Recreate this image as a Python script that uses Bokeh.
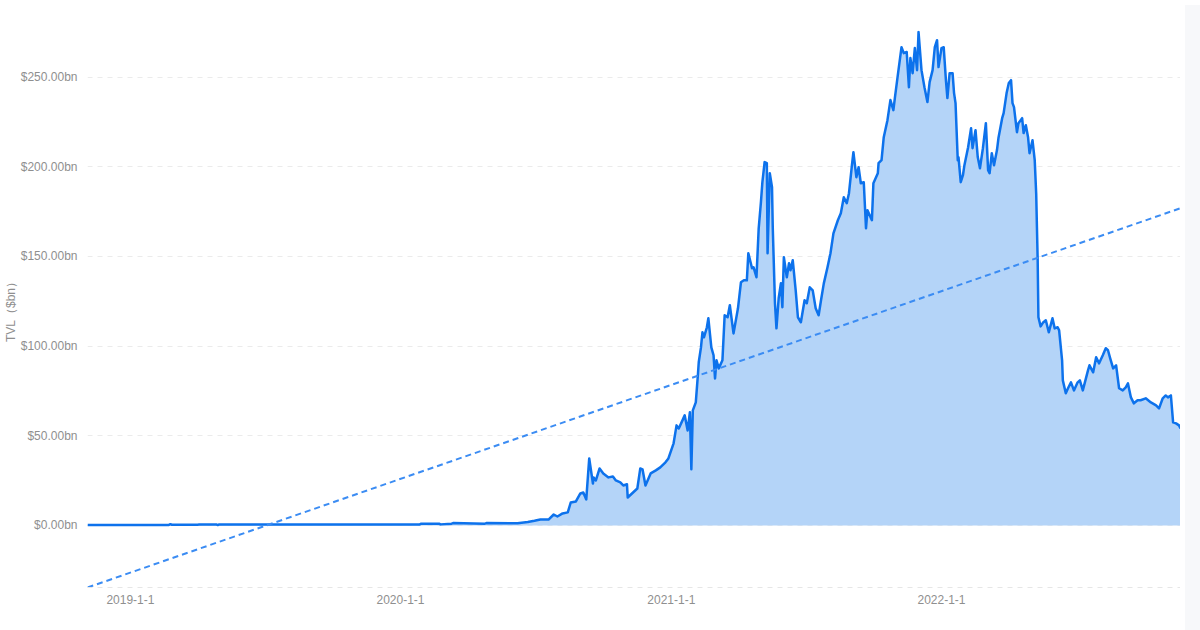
import pandas as pd
from bokeh.plotting import figure
from bokeh.models import FixedTicker, PrintfTickFormatter, Range1d, Div
from bokeh.layouts import row
from bokeh.embed import file_html
from bokeh.resources import INLINE

# ---- data (TVL in $bn) ----
tvl_dates = [
    "2018-11-04", "2019-02-22", "2019-02-24", "2019-02-26", "2019-04-02", "2019-04-04",
    "2019-04-27", "2019-04-29", "2019-05-01", "2020-01-27", "2020-01-29", "2020-02-22",
    "2020-02-24", "2020-03-10", "2020-03-12", "2020-04-24", "2020-04-26", "2020-06-07",
    "2020-06-21", "2020-06-30", "2020-07-08", "2020-07-19", "2020-07-26", "2020-07-31",
    "2020-08-07", "2020-08-14", "2020-08-18", "2020-08-25", "2020-08-31", "2020-09-04",
    "2020-09-08", "2020-09-12", "2020-09-17", "2020-09-18", "2020-09-21", "2020-09-26",
    "2020-10-01", "2020-10-08", "2020-10-14", "2020-10-18", "2020-10-24", "2020-10-28",
    "2020-11-02", "2020-11-03", "2020-11-16", "2020-11-20", "2020-11-23", "2020-11-27",
    "2020-12-04", "2020-12-11", "2020-12-17", "2020-12-24", "2020-12-28", "2021-01-04",
    "2021-01-08", "2021-01-11", "2021-01-16", "2021-01-19", "2021-01-23", "2021-01-26",
    "2021-01-28", "2021-01-30", "2021-02-03", "2021-02-06", "2021-02-07", "2021-02-10",
    "2021-02-12", "2021-02-14", "2021-02-18", "2021-02-20", "2021-02-24", "2021-02-27",
    "2021-03-01", "2021-03-03", "2021-03-06", "2021-03-11", "2021-03-14", "2021-03-18",
    "2021-03-21", "2021-03-26", "2021-04-01", "2021-04-05", "2021-04-09", "2021-04-13",
    "2021-04-15", "2021-04-20", "2021-04-22", "2021-04-26", "2021-04-29", "2021-05-02",
    "2021-05-04", "2021-05-07", "2021-05-10", "2021-05-11", "2021-05-14", "2021-05-17",
    "2021-05-18", "2021-05-21", "2021-05-23", "2021-05-26", "2021-05-29", "2021-05-31",
    "2021-06-02", "2021-06-06", "2021-06-09", "2021-06-11", "2021-06-14", "2021-06-18",
    "2021-06-21", "2021-06-25", "2021-06-30", "2021-07-03", "2021-07-07", "2021-07-11",
    "2021-07-15", "2021-07-19", "2021-07-22", "2021-07-26", "2021-07-31", "2021-08-04",
    "2021-08-08", "2021-08-14", "2021-08-18", "2021-08-22", "2021-08-26", "2021-08-29",
    "2021-09-02", "2021-09-04", "2021-09-08", "2021-09-11", "2021-09-14", "2021-09-18",
    "2021-09-21", "2021-09-23", "2021-09-29", "2021-10-01", "2021-10-07", "2021-10-08",
    "2021-10-12", "2021-10-15", "2021-10-20", "2021-10-22", "2021-10-24", "2021-10-28",
    "2021-10-30", "2021-11-03", "2021-11-08", "2021-11-11", "2021-11-15", "2021-11-18",
    "2021-11-20", "2021-11-23", "2021-11-26", "2021-11-29", "2021-12-01", "2021-12-05",
    "2021-12-09", "2021-12-13", "2021-12-16", "2021-12-20", "2021-12-23", "2021-12-26",
    "2021-12-28", "2022-01-01", "2022-01-04", "2022-01-07", "2022-01-09", "2022-01-12",
    "2022-01-16", "2022-01-18", "2022-01-20", "2022-01-23", "2022-01-24", "2022-01-27",
    "2022-01-30", "2022-02-01", "2022-02-06", "2022-02-10", "2022-02-12", "2022-02-16",
    "2022-02-19", "2022-02-22", "2022-02-26", "2022-03-02", "2022-03-05", "2022-03-07",
    "2022-03-10", "2022-03-13", "2022-03-17", "2022-03-19", "2022-03-24", "2022-03-26",
    "2022-03-30", "2022-04-02", "2022-04-05", "2022-04-07", "2022-04-09", "2022-04-13",
    "2022-04-15", "2022-04-20", "2022-04-22", "2022-04-25", "2022-04-28", "2022-04-30",
    "2022-05-04", "2022-05-07", "2022-05-09", "2022-05-10", "2022-05-11", "2022-05-12",
    "2022-05-15", "2022-05-18", "2022-05-22", "2022-05-26", "2022-05-31", "2022-06-03",
    "2022-06-07", "2022-06-09", "2022-06-13", "2022-06-14", "2022-06-18", "2022-06-21",
    "2022-06-25", "2022-06-29", "2022-07-04", "2022-07-07", "2022-07-11", "2022-07-18",
    "2022-07-20", "2022-07-25", "2022-07-29", "2022-08-02", "2022-08-07", "2022-08-11",
    "2022-08-14", "2022-08-17", "2022-08-21", "2022-08-25", "2022-08-29", "2022-09-03",
    "2022-09-07", "2022-09-10", "2022-09-14", "2022-09-18", "2022-09-23", "2022-09-27",
    "2022-10-04", "2022-10-11", "2022-10-18", "2022-10-22", "2022-10-27", "2022-10-31",
    "2022-11-03", "2022-11-07", "2022-11-10", "2022-11-14", "2022-11-18", "2022-11-20",
]
tvl_values = [
    0.3, 0.3, 0.7, 0.4, 0.4, 0.6,
    0.6, 0.2, 0.6, 0.6, 1.0, 1.0,
    0.6, 1.0, 1.3, 1.0, 1.3, 1.2,
    1.9, 2.6, 3.3, 3.3, 6.1, 5.0,
    6.7, 7.3, 12.8, 13.4, 17.9, 18.4,
    14.5, 37.4, 23.4, 26.8, 25.1, 31.8,
    29.0, 26.8, 27.3, 25.1, 24.0, 22.3,
    23.0, 15.6, 20.6, 31.8, 31.3, 22.3,
    29.0, 30.7, 32.4, 35.2, 37.4, 45.8,
    55.8, 54.1, 58.6, 61.4, 53.0, 63.1,
    31.3, 64.2, 68.6, 84.8, 91.0, 99.3,
    107.7, 104.9, 110.5, 115.5, 99.3, 94.9,
    82.0, 92.1, 87.6, 92.1, 117.2, 116.1,
    122.8, 107.1, 121.1, 135.6, 136.7, 136.7,
    151.8, 143.4, 144.0, 138.4, 165.7, 180.2,
    191.4, 202.6, 202.0, 151.8, 196.4, 188.6,
    166.3, 123.9, 109.9, 126.7, 135.0, 121.7,
    149.6, 138.4, 146.2, 142.3, 147.9, 131.1,
    116.1, 113.3, 125.6, 123.9, 132.8, 131.1,
    121.1, 117.2, 125.0, 135.0, 144.0, 151.8,
    162.9, 170.2, 174.1, 183.0, 179.7, 185.3,
    200.9, 208.1, 194.2, 199.8, 190.8, 191.4,
    165.7, 175.8, 170.2, 190.8, 196.4, 202.0,
    203.7, 216.5, 226.0, 231.6, 237.2, 231.6,
    238.3, 251.1, 266.7, 263.4, 264.0, 244.4,
    260.6, 252.2, 266.2, 253.9, 275.1, 253.9,
    244.4, 236.1, 247.2, 253.9, 266.7, 270.6,
    255.6, 266.2, 266.7, 248.3, 238.3, 252.2,
    252.2, 241.1, 235.5, 203.7, 205.4, 191.4,
    195.3, 200.9, 210.9, 221.5, 210.4, 220.4,
    205.4, 199.2, 210.4, 224.3, 198.1, 196.4,
    207.6, 200.9, 209.3, 216.0, 227.1, 229.9,
    241.1, 246.7, 248.3, 235.5, 233.3, 219.3,
    224.3, 227.1, 218.8, 223.2, 216.5, 207.6,
    214.8, 203.7, 185.0, 166.3, 147.9, 116.1,
    111.0, 113.0, 114.4, 107.7, 115.5, 109.9,
    110.5, 108.8, 92.1, 80.9, 73.7, 76.5,
    79.8, 75.3, 79.8, 80.9, 75.3, 86.5,
    89.3, 85.4, 93.8, 90.4, 94.9, 98.8,
    97.7, 93.2, 87.6, 89.3, 76.5, 75.3,
    77.0, 79.2, 71.4, 68.1, 69.8, 69.8,
    70.9, 68.6, 67.0, 65.3, 70.9, 72.5,
    71.4, 72.5, 57.5, 56.9, 55.8, 54.1,
]

# linear trend line end points ($bn)
trend_dates = ["2018-11-04", "2022-11-20"]
trend_values = [-34.6, 176.9]

y_ticks = [0, 50, 100, 150, 200, 250]
x_tick_dates = ["2019-01-01", "2020-01-01", "2021-01-01", "2022-01-01"]
x_tick_labels = ["2019-1-1", "2020-1-1", "2021-1-1", "2022-1-1"]
y_title = "TVL（$bn）"

# ---- build ----
x = pd.to_datetime(tvl_dates)
tx = pd.to_datetime(trend_dates)

FONT = "Liberation Sans"
LABEL_COLOR = "#8f8f8f"

p = figure(
    width=1180, height=625, x_axis_type="datetime",
    output_backend="svg", toolbar_location=None,
    min_border_left=87, min_border_right=0, min_border_top=30, min_border_bottom=38,
    x_range=Range1d(x[0], x[-1]), y_range=Range1d(trend_values[0], 276),
)
p.outline_line_color = None
p.background_fill_color = "white"
p.border_fill_color = "white"

p.varea(x=x, y1=0, y2=tvl_values, fill_color="#b4d4f8", fill_alpha=1.0)
p.line(x=x, y=tvl_values, line_color="#0d72ec", line_width=2.5, line_join="round")
p.line(x=tx, y=trend_values, line_color="#3b8cf3", line_width=2, line_dash="6 4")

# y axis
p.yaxis.ticker = FixedTicker(ticks=y_ticks)
p.yaxis.formatter = PrintfTickFormatter(format="$%.2fbn")
p.yaxis.axis_line_color = None
p.yaxis.major_tick_line_color = None
p.yaxis.minor_tick_line_color = None
p.yaxis.major_tick_out = 0
p.yaxis.major_tick_in = 0
p.yaxis.minor_tick_out = 0
p.yaxis.major_label_text_color = LABEL_COLOR
p.yaxis.major_label_text_font = FONT
p.yaxis.major_label_text_font_size = "12px"
p.yaxis.major_label_standoff = 10
p.yaxis.axis_label = y_title
p.yaxis.axis_label_text_font = FONT
p.yaxis.axis_label_text_font_size = "12px"
p.yaxis.axis_label_text_font_style = "normal"
p.yaxis.axis_label_text_color = LABEL_COLOR
p.yaxis.axis_label_standoff = 0

# x axis
tick_ms = [pd.Timestamp(d).value / 1e6 for d in x_tick_dates]
p.xaxis.ticker = FixedTicker(ticks=tick_ms)
p.xaxis.major_label_overrides = {t: lab for t, lab in zip(tick_ms, x_tick_labels)}
p.xaxis.axis_line_color = "#e6e6e6"
p.xaxis.axis_line_dash = "5 5"
p.xaxis.major_tick_line_color = None
p.xaxis.minor_tick_line_color = None
p.xaxis.major_tick_out = 0
p.xaxis.major_tick_in = 0
p.xaxis.minor_tick_out = 0
p.xaxis.major_label_text_color = LABEL_COLOR
p.xaxis.major_label_text_font = FONT
p.xaxis.major_label_text_font_size = "12px"
p.xaxis.major_label_standoff = 7

# grid
p.xgrid.grid_line_color = None
p.ygrid.grid_line_color = "#ebebeb"
p.ygrid.grid_line_dash = "5 5"
p.ygrid.grid_line_width = 1

strip = Div(width=20, height=625, styles={"background-color": "#f7f8fa"})
layout = row(p, strip, spacing=0)

open("out.html", "w").write(file_html(layout, INLINE))
